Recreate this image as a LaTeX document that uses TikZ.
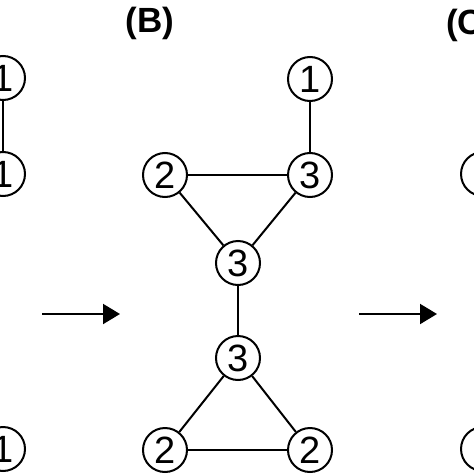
\documentclass[tikz,border=0pt]{standalone}
\usepackage{fontspec}
\setmainfont{Liberation Sans}
\usetikzlibrary{arrows.meta}
\begin{document}
\begin{tikzpicture}[x=1pt,y=-1pt,
  vert/.style={circle,draw,line width=2pt,minimum size=44pt,inner sep=0pt,font=\fontsize{38}{38}\selectfont},
  edge/.style={line width=2pt},
  step arrow/.style={line width=2pt,-{Triangle[length=17pt,width=20pt]}},
  panel/.style={font=\bfseries\fontsize{35}{35}\selectfont}]
\useasboundingbox (0,0) rectangle (474,474);
\clip (0,0) rectangle (474,474);
% panel A (partly visible)
\node[vert] (a1) at (3,78) {1};
\node[vert] (a2) at (3,174) {1};
\node[vert] (a3) at (3,449) {1};
\draw[edge] (a1) -- (a2);
% panel B
\node[panel] (lb) at (150,23) {(B)};
\node[vert] (b1) at (310,79) {1};
\node[vert] (b2) at (165,175) {2};
\node[vert] (b3) at (310,175) {3};
\node[vert] (b4) at (238,263) {3};
\node[vert] (b5) at (238,358) {3};
\node[vert] (b6) at (165,450) {2};
\node[vert] (b7) at (310,450) {2};
\draw[edge] (b1) -- (b3);
\draw[edge] (b2) -- (b3);
\draw[edge] (b2) -- (b4);
\draw[edge] (b3) -- (b4);
\draw[edge] (b4) -- (b5);
\draw[edge] (b5) -- (b6);
\draw[edge] (b5) -- (b7);
\draw[edge] (b6) -- (b7);
% panel C (partly visible)
\node[panel,anchor=west,inner sep=0pt] (lc) at (446,25) {(C)};
\node[vert] (c1) at (483,174) {};
\node[vert] (c2) at (483,449) {};
% arrows
\coordinate (p1) at (42,314);
\coordinate (p2) at (120,314);
\coordinate (q1) at (359,314);
\coordinate (q2) at (437,314);
\draw[step arrow] (p1) -- (p2);
\draw[step arrow] (q1) -- (q2);
\end{tikzpicture}
\end{document}
